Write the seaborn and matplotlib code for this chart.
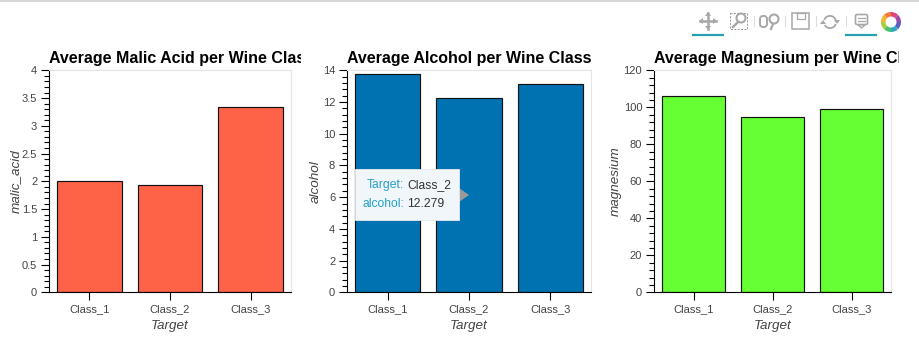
import pandas as pd
import seaborn as sns
import matplotlib.pyplot as plt
from matplotlib.patches import Rectangle, Polygon, Wedge, Circle, FancyBboxPatch
from matplotlib.ticker import MultipleLocator, FuncFormatter
from matplotlib.transforms import Bbox

targets = ['Class_1', 'Class_2', 'Class_3']
malic_acid = [2.01, 1.93, 3.33]
alcohol = [13.74, 12.279, 13.15]
magnesium = [106.3, 94.5, 99.3]

titles = ['Average Malic Acid per Wine Class', 'Average Alcohol per Wine Class', 'Average Magnesium per Wine Class']
ylabels = ['malic_acid', 'alcohol', 'magnesium']
series = [malic_acid, alcohol, magnesium]
colors = ['#ff6347', '#0072b2', '#66ff33']
ymaxes = [4, 14, 120]
major_steps = [0.5, 2, 20]
minor_steps = [0.1, 0.4, 4]

W, H = 919, 351
plt.rcParams['font.family'] = ['Liberation Sans', 'DejaVu Sans']
GREY = '#444444'

fig, axes = plt.subplots(1, 3, figsize=(W / 100, H / 100), dpi=100)
lefts = [49, 347, 654]
rights = [291, 591, 891]
title_lefts = [49, 347, 654]
clips = [301, 592, 899]
ylabel_x = [22, 322, 622]

for i, ax in enumerate(axes):
    ax.set_position([lefts[i] / W, 1 - 292.3 / H, (rights[i] - lefts[i]) / W, 222 / H])
    df = pd.DataFrame({'Target': targets, ylabels[i]: series[i]})
    sns.barplot(data=df, x='Target', y=ylabels[i], color=colors[i], saturation=1,
                width=0.8, edgecolor='#111111', linewidth=0.85, ax=ax)
    ax.set_xlim(-0.5, 2.5)
    ax.set_ylim(0, ymaxes[i])
    ax.yaxis.set_major_locator(MultipleLocator(major_steps[i]))
    ax.yaxis.set_minor_locator(MultipleLocator(minor_steps[i]))
    ax.yaxis.set_major_formatter(FuncFormatter(lambda v, p: f'{v:g}'))
    ax.tick_params(axis='both', which='major', direction='out', length=5.5, width=0.8,
                   labelsize=8, labelcolor=GREY, color='black', pad=3)
    ax.tick_params(axis='y', which='minor', direction='out', length=3.5, width=0.8, color='black')
    ax.tick_params(axis='x', pad=3)
    ax.set_xlabel('Target', fontsize=9.7, style='italic', color=GREY, labelpad=4)
    ax.set_ylabel(ylabels[i], fontsize=9.7, style='italic', color=GREY)
    ax.yaxis.set_label_coords((ylabel_x[i] - lefts[i]) / (rights[i] - lefts[i]), 0.5)
    ax.spines['left'].set_color('black')
    ax.spines['bottom'].set_color('black')
    ax.spines['top'].set_color('#e5e5e5')
    ax.spines['right'].set_color('#e5e5e5')
    ax.patch.set_zorder(0)

    # titles run past the plot and get cut off
    t = fig.text(title_lefts[i] / W, 1 - 63 / H, titles[i], fontsize=11.55, fontweight='bold',
                 color='black', ha='left', va='baseline')
    t.set_clip_box(Bbox([[0, 0], [clips[i], H]]))
    t.set_clip_on(True)

# overlay in pixel coordinates for tooltip and toolbar
ov = fig.add_axes([0, 0, 1, 1], zorder=10)
ov.set_xlim(0, W)
ov.set_ylim(H, 0)
ov.axis('off')

ov.plot([0, W], [1, 1], color='#d0d0d0', lw=1.2)

# tooltip
ov.add_patch(Polygon([[459, 188], [469, 195], [459, 202]], color='#9a9a9a', lw=0))
ov.add_patch(Rectangle((355, 169), 104, 51, facecolor='#f0f6f9', edgecolor='#e3e9ec', lw=0.6))
ov.text(404, 185, 'Target:', ha='right', va='center', fontsize=8.7, color='#26a0c8')
ov.text(407, 185, 'Class_2', ha='left', va='center', fontsize=8.7, color='#333333')
ov.text(404, 204, 'alcohol:', ha='right', va='center', fontsize=8.7, color='#26a0c8')
ov.text(407, 204, '12.279', ha='left', va='center', fontsize=8.7, color='#333333')

# toolbar
icon = '#a8a8a8'
ov.plot([693, 723], [35, 35], color='#26a0b0', lw=1.6)
ov.plot([846, 876], [35, 35], color='#26a0b0', lw=1.6)

# pan
ov.plot([700, 716], [21, 21], color=icon, lw=1.8)
ov.plot([708, 708], [13, 29], color=icon, lw=1.8)
ov.add_patch(Polygon([[699, 21], [703, 18], [703, 24]], color=icon, lw=0))
ov.add_patch(Polygon([[717, 21], [713, 18], [713, 24]], color=icon, lw=0))
ov.add_patch(Polygon([[708, 12], [705, 16], [711, 16]], color=icon, lw=0))
ov.add_patch(Polygon([[708, 30], [705, 26], [711, 26]], color=icon, lw=0))

# box zoom
ov.add_patch(Rectangle((730, 13), 17, 16, fill=False, ec='#999999', lw=0.7, ls=(0, (2, 1.5))))
ov.add_patch(Circle((741, 18), 4.5, fill=False, ec=icon, lw=1.5))
ov.plot([738, 733], [22, 27], color=icon, lw=1.8)
ov.plot([753.5, 753.5], [16, 26], color='#dddddd', lw=0.8)

# wheel zoom
ov.add_patch(FancyBboxPatch((761, 17), 5, 9, boxstyle='round,pad=1,rounding_size=3', fill=False, ec=icon, lw=1.4))
ov.add_patch(Circle((774, 19), 4.5, fill=False, ec=icon, lw=1.5))
ov.plot([773, 771], [24, 29], color=icon, lw=1.6)
ov.plot([785, 785], [16, 26], color='#dddddd', lw=0.8)

# save
ov.add_patch(Rectangle((791.5, 13), 17, 16, fill=False, ec=icon, lw=1.1))
ov.add_patch(Rectangle((797, 13), 8, 6, fill=False, ec=icon, lw=0.9))
ov.plot([816, 816], [16, 26], color='#dddddd', lw=0.8)

# reset
ov.add_patch(Wedge((830, 22), 7, 20, 150, width=1.8, color=icon, lw=0))
ov.add_patch(Wedge((830, 22), 7, 200, 340, width=1.8, color=icon, lw=0))
ov.add_patch(Polygon([[834, 20], [840, 20], [837, 24]], color=icon, lw=0))
ov.add_patch(Polygon([[820, 24], [826, 24], [823, 20]], color=icon, lw=0))
ov.plot([846, 846], [16, 26], color='#dddddd', lw=0.8)

# hover
ov.add_patch(FancyBboxPatch((856, 15), 11, 9, boxstyle='round,pad=0.5,rounding_size=1.5', fill=False, ec=icon, lw=1.2))
ov.add_patch(Polygon([[858, 25], [865, 25], [861.5, 28]], facecolor='white', edgecolor=icon, lw=1))
ov.plot([858, 865], [18, 18], color=icon, lw=0.9)
ov.plot([858, 865], [21, 21], color=icon, lw=0.9)

# logo ring
logo_colors = ['#e0457b', '#a04aa8', '#5b5fc0', '#2fa8c8', '#4fc36c', '#a8cf3c', '#f2b632', '#f27b2e']
for k, c in enumerate(logo_colors):
    ov.add_patch(Wedge((891, 22), 10, k * 45 - 90, (k + 1) * 45 - 90, width=4.5, color=c, lw=0))

fig.savefig('out.png', dpi=100)
